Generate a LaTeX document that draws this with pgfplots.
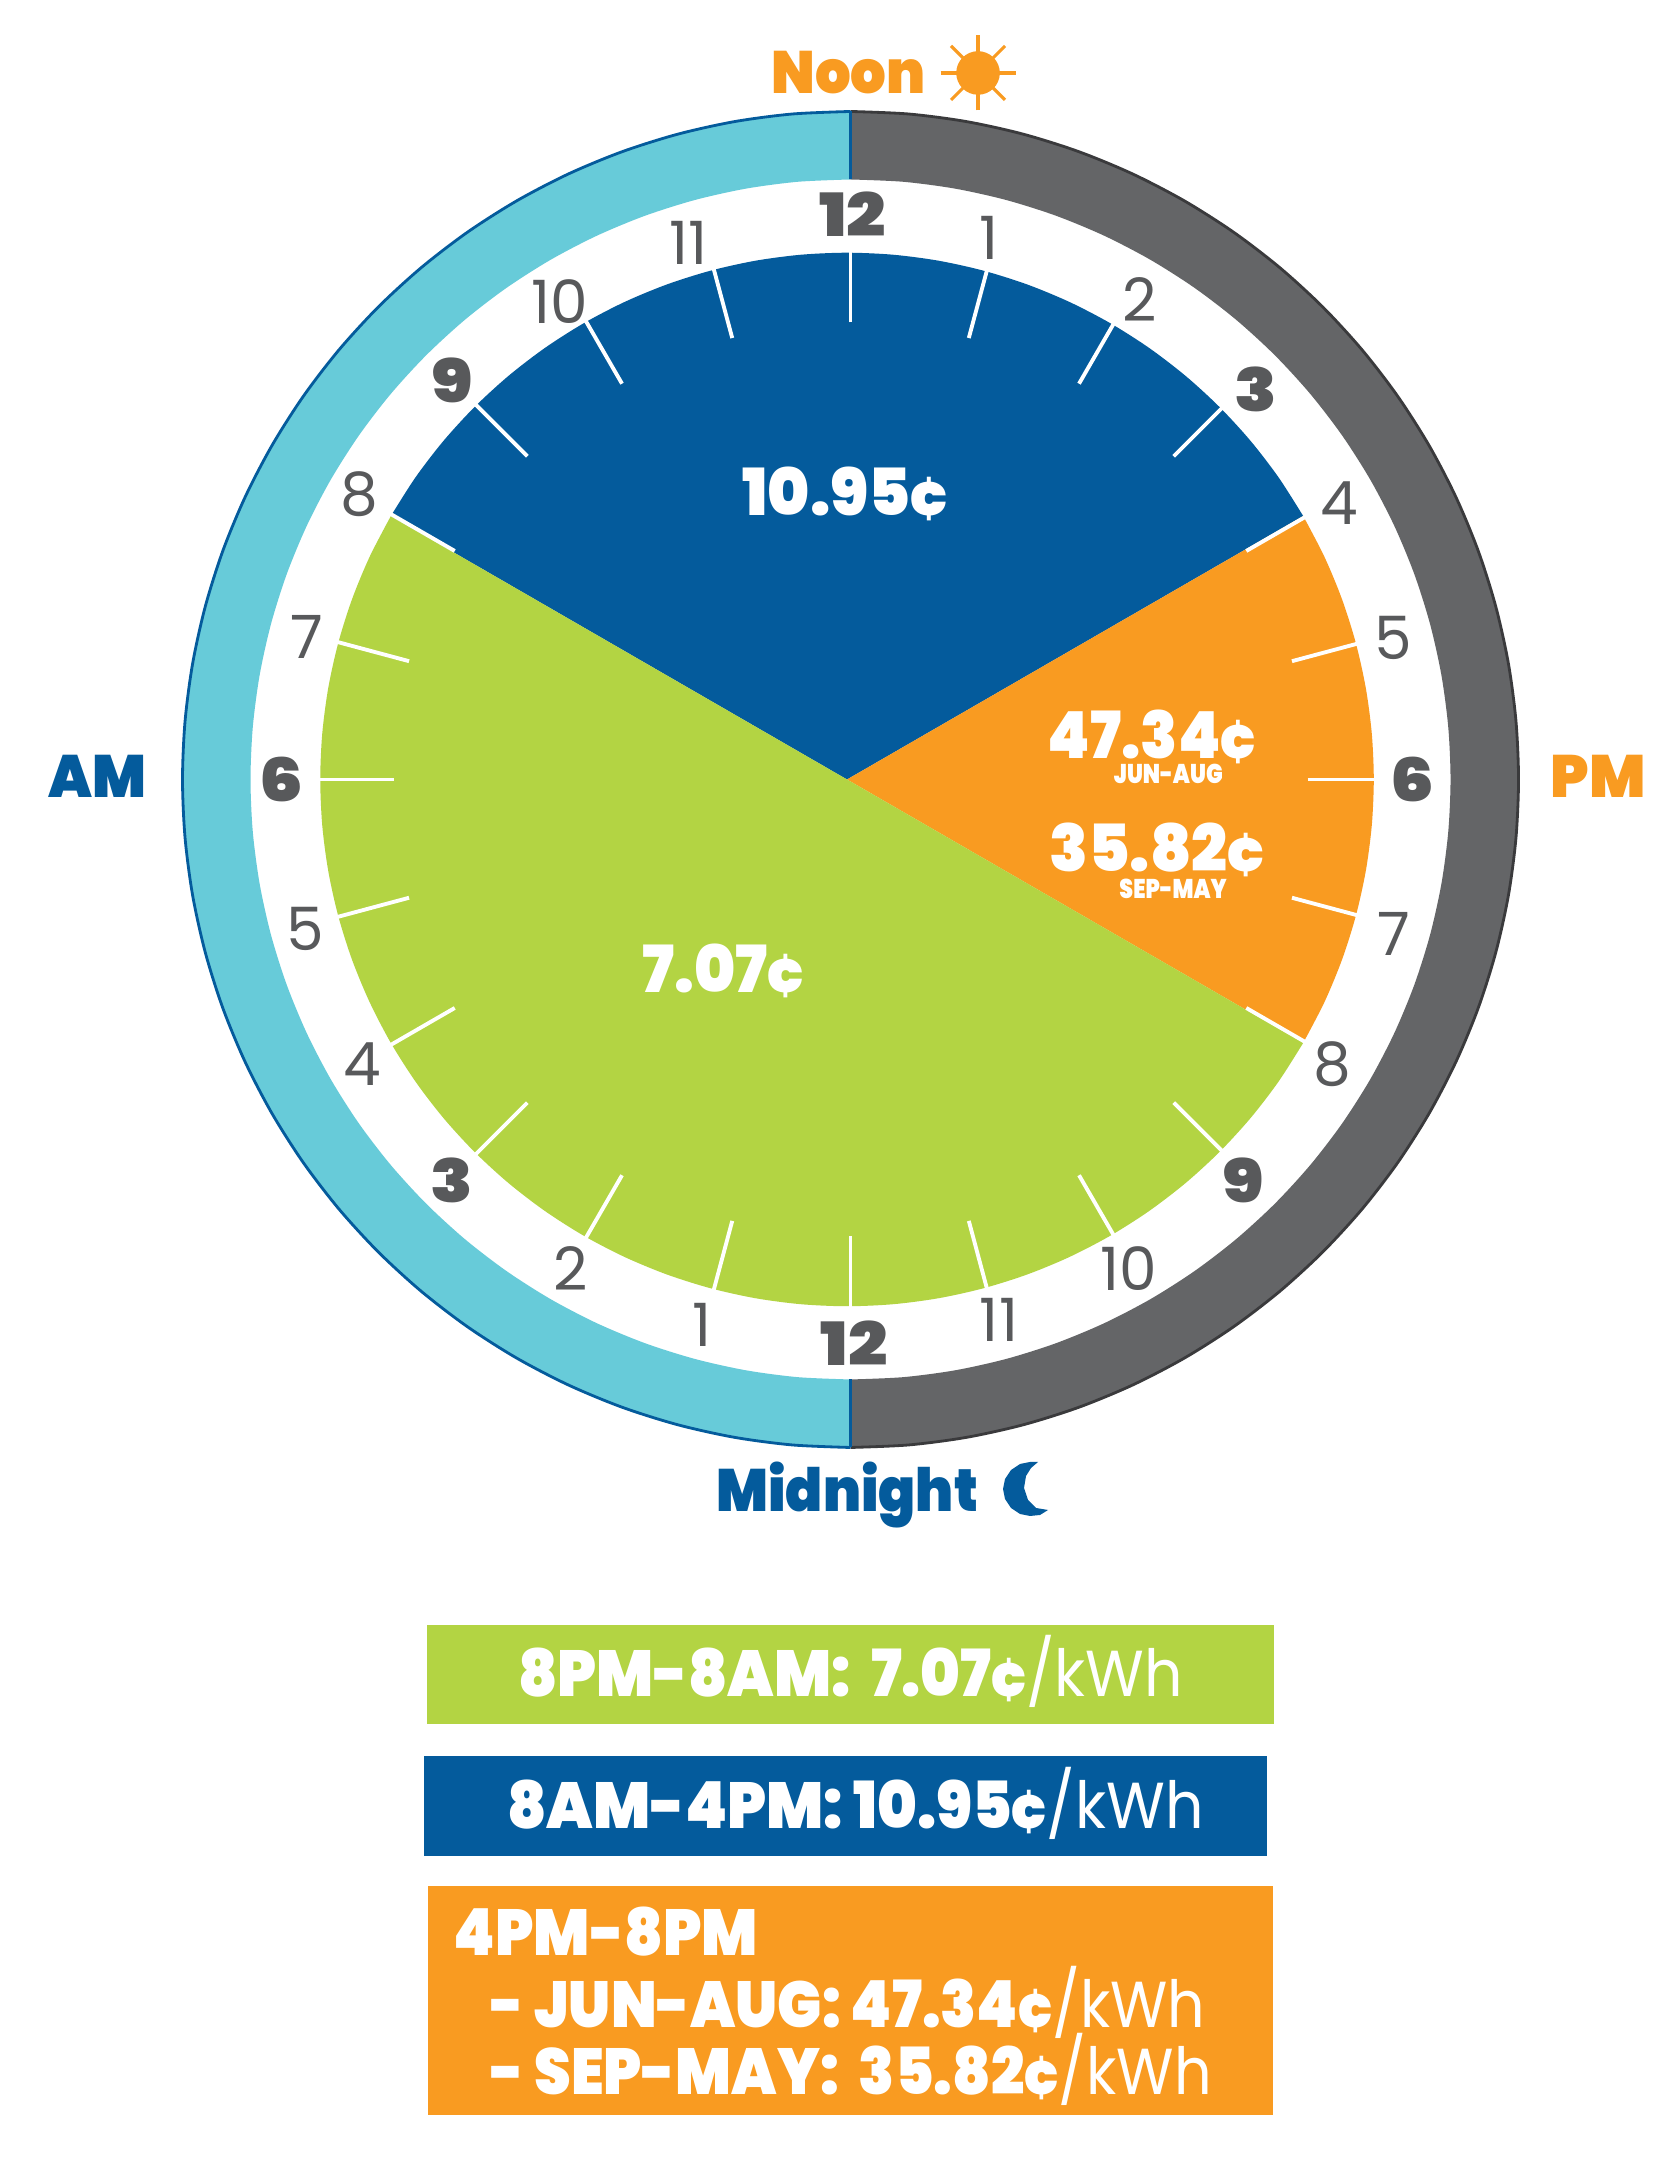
\documentclass[border=0pt]{standalone}
\usepackage{pgfplots}
\usepackage{graphicx}
\pgfplotsset{compat=1.18}
\usepackage{fontspec}
\setmainfont{Poppins}
\newfontfamily\blk{Poppins Black}
\newfontfamily\lgt{Poppins}
\definecolor{cblue}{HTML}{045B9C}
\definecolor{ccyan}{HTML}{67CBD9}
\definecolor{cgrey}{HTML}{646567}
\definecolor{cdark}{HTML}{3A3A3C}
\definecolor{corange}{HTML}{F99B21}
\definecolor{cgreen}{HTML}{B3D443}
\definecolor{ctext}{HTML}{58595B}
\newlength\mylen
% text with given baseline centre and width, in coordinates of the shrunk reference
\newcommand\lab[6]{\node[inner sep=0pt,anchor=base,text=#5] at (axis cs:{#1*1.3818-850.5},{779.5-#2*1.3818})
  {\pgfmathsetlength{\mylen}{#3*0.3917pt}\resizebox{\mylen}{\height}{\fontsize{#4}{#4}\selectfont #6}};}
\newcommand\num[3]{\node[inner sep=0pt,text=ctext] at (axis cs:{#1*1.3818-850.5},{779.5-#2*1.3818}) {\fontsize{17}{17}\selectfont\lgt #3};}
\newcommand\bnum[3]{\node[inner sep=0pt,text=ctext] at (axis cs:{#1*1.3818-850.5},{779.5-#2*1.3818}) {\scalebox{1.16}[1]{\fontsize{17}{17}\selectfont\blk #3}};}
\newcommand\tk[1]{\addplot[white,line width=1.1pt,data cs=polar] coordinates {(#1,457) (#1,535)};}
\begin{document}
\begin{tikzpicture}
\begin{axis}[scale only axis,width=167.6mm,height=216.6mm,
  xmin=-850.5,xmax=825.5,ymin=-1386.5,ymax=779.5,
  axis lines=none,clip=false,ticks=none]
% page background: keeps the picture at the reference's size
\addplot[fill=white,draw=none] coordinates {(-850.5,-1386.5)(825.5,-1386.5)(825.5,779.5)(-850.5,779.5)};
% AM ring
\addplot[ccyan,line width=6.8mm,smooth,data cs=polar] coordinates {
(90,634)(95,634)(100,634)(105,634)(110,634)(115,634)(120,634)(125,634)(130,634)(135,634)(140,634)(145,634)(150,634)(155,634)(160,634)(165,634)(170,634)(175,634)(180,634)(185,634)(190,634)(195,634)(200,634)(205,634)(210,634)(215,634)(220,634)(225,634)(230,634)(235,634)(240,634)(245,634)(250,634)(255,634)(260,634)(265,634)(270,634)};
% PM ring
\addplot[cgrey,line width=6.8mm,smooth,data cs=polar] coordinates {
(90,634)(85,634)(80,634)(75,634)(70,634)(65,634)(60,634)(55,634)(50,634)(45,634)(40,634)(35,634)(30,634)(25,634)(20,634)(15,634)(10,634)(5,634)(0,634)(-5,634)(-10,634)(-15,634)(-20,634)(-25,634)(-30,634)(-35,634)(-40,634)(-45,634)(-50,634)(-55,634)(-60,634)(-65,634)(-70,634)(-75,634)(-80,634)(-85,634)(-90,634)};
% outer strokes
\addplot[cdark,line width=0.8pt,smooth,data cs=polar] coordinates {
(90,668)(85,668)(80,668)(75,668)(70,668)(65,668)(60,668)(55,668)(50,668)(45,668)(40,668)(35,668)(30,668)(25,668)(20,668)(15,668)(10,668)(5,668)(0,668)(-5,668)(-10,668)(-15,668)(-20,668)(-25,668)(-30,668)(-35,668)(-40,668)(-45,668)(-50,668)(-55,668)(-60,668)(-65,668)(-70,668)(-75,668)(-80,668)(-85,668)(-90,668)};
\addplot[cblue,line width=0.8pt,smooth,data cs=polar] coordinates {
(90,668)(95,668)(100,668)(105,668)(110,668)(115,668)(120,668)(125,668)(130,668)(135,668)(140,668)(145,668)(150,668)(155,668)(160,668)(165,668)(170,668)(175,668)(180,668)(185,668)(190,668)(195,668)(200,668)(205,668)(210,668)(215,668)(220,668)(225,668)(230,668)(235,668)(240,668)(245,668)(250,668)(255,668)(260,668)(265,668)(270,668)};
\addplot[cblue,line width=0.8pt,data cs=polar] coordinates {(90,600)(90,668)};
\addplot[cblue,line width=0.8pt,data cs=polar] coordinates {(270,600)(270,668)};
% wedges
\addplot[fill=cblue,draw=none,xshift=-0.35mm,data cs=polar] coordinates {
(0,0)(30,526)(35,526)(40,526)(45,526)(50,526)(55,526)(60,526)(65,526)(70,526)(75,526)(80,526)(85,526)(90,526)(95,526)(100,526)(105,526)(110,526)(115,526)(120,526)(125,526)(130,526)(135,526)(140,526)(145,526)(150,526)};
\addplot[fill=corange,draw=none,xshift=-0.35mm,data cs=polar] coordinates {
(0,0)(-30,526)(-25,526)(-20,526)(-15,526)(-10,526)(-5,526)(0,526)(5,526)(10,526)(15,526)(20,526)(25,526)(30,526)};
\addplot[fill=cgreen,draw=none,xshift=-0.35mm,data cs=polar] coordinates {
(0,0)(150,526)(155,526)(160,526)(165,526)(170,526)(175,526)(180,526)(185,526)(190,526)(195,526)(200,526)(205,526)(210,526)(215,526)(220,526)(225,526)(230,526)(235,526)(240,526)(245,526)(250,526)(255,526)(260,526)(265,526)(270,526)(275,526)(280,526)(285,526)(290,526)(295,526)(300,526)(305,526)(310,526)(315,526)(320,526)(325,526)(330,526)};
% wedge rims, smooth
\addplot[cblue,line width=1pt,smooth,xshift=-0.35mm,data cs=polar] coordinates {
(30,525)(35,525)(40,525)(45,525)(50,525)(55,525)(60,525)(65,525)(70,525)(75,525)(80,525)(85,525)(90,525)(95,525)(100,525)(105,525)(110,525)(115,525)(120,525)(125,525)(130,525)(135,525)(140,525)(145,525)(150,525)};
\addplot[corange,line width=1pt,smooth,xshift=-0.35mm,data cs=polar] coordinates {
(-30,525)(-25,525)(-20,525)(-15,525)(-10,525)(-5,525)(0,525)(5,525)(10,525)(15,525)(20,525)(25,525)(30,525)};
\addplot[cgreen,line width=1pt,smooth,xshift=-0.35mm,data cs=polar] coordinates {
(150,525)(155,525)(160,525)(165,525)(170,525)(175,525)(180,525)(185,525)(190,525)(195,525)(200,525)(205,525)(210,525)(215,525)(220,525)(225,525)(230,525)(235,525)(240,525)(245,525)(250,525)(255,525)(260,525)(265,525)(270,525)(275,525)(280,525)(285,525)(290,525)(295,525)(300,525)(305,525)(310,525)(315,525)(320,525)(325,525)(330,525)};
% ticks
\tk{0}\tk{15}\tk{30}\tk{45}\tk{60}\tk{75}\tk{90}\tk{105}\tk{120}\tk{135}\tk{150}\tk{165}
\tk{180}\tk{195}\tk{210}\tk{225}\tk{240}\tk{255}\tk{270}\tk{285}\tk{300}\tk{315}\tk{330}\tk{345}
% legend boxes
\addplot[fill=cgreen,draw=none] coordinates {(-423.5,-845.5)(423.5,-845.5)(423.5,-945)(-423.5,-945)};
\addplot[fill=cblue,draw=none] coordinates {(-426.5,-976.5)(416.5,-976.5)(416.5,-1076.5)(-426.5,-1076.5)};
\addplot[fill=corange,draw=none] coordinates {(-422.5,-1106.5)(422.5,-1106.5)(422.5,-1335.5)(-422.5,-1335.5)};
% sun
\addplot[only marks,mark=*,mark size=6pt,color=corange] coordinates {(127.5,706.5)};
\addplot[corange,line width=0.9pt] coordinates {(90,706.5)(165,706.5)};
\addplot[corange,line width=0.9pt] coordinates {(127.5,669)(127.5,744)};
\addplot[corange,line width=0.9pt] coordinates {(100.5,679.5)(154.5,733.5)};
\addplot[corange,line width=0.9pt] coordinates {(100.5,733.5)(154.5,679.5)};
% moon
\addplot[fill=cblue,draw=none] coordinates {(187.5,-682.5)(179.5,-682.5)(169.5,-684.5)(160.5,-690.5)(154.5,-699.5)(152.5,-709.5)(154.5,-719.5)(160.5,-728.5)(169.5,-734.5)(179.5,-736.5)(189.5,-735.5)(197.5,-730.5)(185.5,-728.5)(177.5,-720.5)(173.5,-708.5)(175.5,-696.5)(180.5,-688.5)};
% clock numbers
\bnum{617}{155}{12}
\num{716}{172}{1}\num{825}{217}{2}\bnum{909}{282}{3}\num{969}{364}{4}\num{1008}{462}{5}
\bnum{1022}{564}{6}\num{1009}{676}{7}\num{964}{770}{8}\bnum{900}{854}{9}\num{817}{918}{10}\num{723}{955}{11}
\bnum{618}{972}{12}
\num{508}{959}{1}\num{413}{918}{2}\bnum{327}{854}{3}\num{262}{770}{4}\num{221}{672}{5}
\bnum{204}{564}{6}\num{222}{461}{7}\num{260}{358}{8}\bnum{327}{275}{9}\num{405}{218}{10}\num{498}{176}{11}
% outer labels
\lab{614}{67.7}{112}{17}{corange}{\blk Noon}
\lab{70.5}{577.3}{71}{17}{cblue}{\blk AM}
\lab{1156.5}{577.3}{69}{17}{corange}{\blk PM}
\lab{613}{1094}{190}{17}{cblue}{\blk Midnight}
% pie labels
\lab{611.5}{373}{149}{18.5}{white}{\blk 10.95¢}
\lab{523.5}{718}{117}{18.5}{white}{\blk 7.07¢}
\lab{833.5}{549}{151}{18.5}{white}{\blk 47.34¢}
\lab{845.5}{567}{79}{7.7}{white}{\blk JUN-AUG}
\lab{837}{631}{156}{18.5}{white}{\blk 35.82¢}
\lab{849}{650}{78}{7.7}{white}{\blk SEP-MAY}
% legend text
\lab{615.5}{1228}{483}{18.5}{white}{\blk 8PM-8AM:\ \ 7.07¢\lgt /kWh}
\lab{619}{1323}{506}{18.5}{white}{\blk 8AM-4PM: 10.95¢\lgt /kWh}
\lab{438.5}{1415}{221}{18.5}{white}{\blk 4PM-8PM}
\lab{613.5}{1467}{519}{18.5}{white}{\blk - JUN-AUG: 47.34¢\lgt /kWh}
\lab{616}{1516}{524}{18.5}{white}{\blk - SEP-MAY:\ \ 35.82¢\lgt /kWh}
\end{axis}
\end{tikzpicture}
\end{document}
